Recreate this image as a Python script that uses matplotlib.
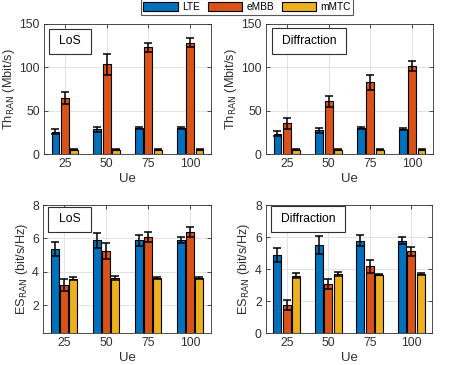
import matplotlib
matplotlib.use("Agg")
import matplotlib.pyplot as plt
from matplotlib.patches import Rectangle
import numpy as np

plt.rcParams['font.family'] = ['Liberation Sans', 'DejaVu Sans']

ue_labels = ["25", "50", "75", "100"]
series = ["LTE", "eMBB", "mMTC"]
colors = ["#0072BD", "#D95319", "#EDB120"]

# Throughput (Mbit/s) - LoS
th_los_lte = [25.8, 28.6, 30.0, 30.0]
th_los_lte_err = [3.0, 3.0, 1.2, 1.0]
th_los_embb = [64.6, 103.5, 123.0, 128.5]
th_los_embb_err = [7.0, 12.0, 5.0, 5.0]
th_los_mmtc = [5.0, 5.0, 5.0, 5.0]
th_los_mmtc_err = [0.6, 0.6, 0.6, 0.6]

# Throughput (Mbit/s) - Diffraction
th_dif_lte = [23.5, 27.4, 29.8, 28.6]
th_dif_lte_err = [3.0, 3.0, 1.5, 1.0]
th_dif_embb = [35.3, 60.7, 82.6, 101.8]
th_dif_embb_err = [6.0, 6.5, 9.0, 5.5]
th_dif_mmtc = [5.0, 5.0, 5.0, 5.0]
th_dif_mmtc_err = [0.6, 0.6, 0.6, 0.6]

# Spectral efficiency (bit/s/Hz) - LoS
es_los_lte = [5.35, 5.88, 5.9, 5.9]
es_los_lte_err = [0.42, 0.45, 0.33, 0.2]
es_los_embb = [3.24, 5.25, 6.1, 6.4]
es_los_embb_err = [0.36, 0.5, 0.3, 0.3]
es_los_mmtc = [3.6, 3.62, 3.65, 3.65]
es_los_mmtc_err = [0.1, 0.13, 0.06, 0.06]

# Spectral efficiency (bit/s/Hz) - Diffraction
es_dif_lte = [4.87, 5.5, 5.78, 5.78]
es_dif_lte_err = [0.45, 0.55, 0.32, 0.22]
es_dif_embb = [1.76, 3.07, 4.17, 5.1]
es_dif_embb_err = [0.33, 0.33, 0.4, 0.3]
es_dif_mmtc = [3.58, 3.69, 3.65, 3.68]
es_dif_mmtc_err = [0.15, 0.1, 0.05, 0.05]

W, H = 474, 365
fig = plt.figure(figsize=(W / 100, H / 100), dpi=100)

def rect(x0, x1, y0, y1):
    return [x0 / W, 1 - y1 / H, (x1 - x0) / W, (y1 - y0) / H]

axcol = "#303030"

panels = [
    dict(r=rect(44, 211, 24, 154), data=[(th_los_lte, th_los_lte_err), (th_los_embb, th_los_embb_err), (th_los_mmtc, th_los_mmtc_err)],
         ylim=(0, 150), yticks=[0, 50, 100, 150], ylabel=r"Th$_{\mathrm{RAN}}$ (Mbit/s)", title="LoS", box=(49, 91, 29, 54), ylx=17),
    dict(r=rect(266, 433, 24, 154), data=[(th_dif_lte, th_dif_lte_err), (th_dif_embb, th_dif_embb_err), (th_dif_mmtc, th_dif_mmtc_err)],
         ylim=(0, 150), yticks=[0, 50, 100, 150], ylabel=r"Th$_{\mathrm{RAN}}$ (Mbit/s)", title="Diffraction", box=(272, 346, 28, 54), ylx=239),
    dict(r=rect(43, 211, 205, 333), data=[(es_los_lte, es_los_lte_err), (es_los_embb, es_los_embb_err), (es_los_mmtc, es_los_mmtc_err)],
         ylim=(0.35, 8), yticks=[2, 4, 6, 8], ylabel=r"ES$_{\mathrm{RAN}}$ (bit/s/Hz)", title="LoS", box=(48, 91, 207, 232), ylx=30),
    dict(r=rect(266, 432, 205, 333), data=[(es_dif_lte, es_dif_lte_err), (es_dif_embb, es_dif_embb_err), (es_dif_mmtc, es_dif_mmtc_err)],
         ylim=(0, 8), yticks=[0, 2, 4, 6, 8], ylabel=r"ES$_{\mathrm{RAN}}$ (bit/s/Hz)", title="Diffraction", box=(271, 345, 206, 232), ylx=252),
]

x = np.arange(1, len(ue_labels) + 1)
offsets = [-0.225, 0.0, 0.225]
bw = 0.19
handles = []
for p in panels:
    ax = fig.add_axes(p["r"])
    r = p["r"]
    ax_x0 = r[0] * W
    ax_w = r[2] * W
    ax_top = (1 - r[1] - r[3]) * H
    ax_h = r[3] * H
    hs = []
    for (vals, errs), off, c, name in zip(p["data"], offsets, colors, series):
        b = ax.bar(x + off, vals, width=bw, color=c, edgecolor="black", linewidth=0.8, label=name, zorder=2)
        ax.errorbar(x + off, vals, yerr=errs, fmt="none", ecolor="black", elinewidth=1.1, capsize=3.2, capthick=1.1, zorder=3)
        hs.append(b)
    handles = hs
    ax.set_xlim(0.5, 4.5)
    ax.set_ylim(*p["ylim"])
    ax.set_xticks(x)
    ax.set_xticklabels(ue_labels)
    ax.set_yticks(p["yticks"])
    ax.grid(True, color="#e3e3e3", linewidth=0.7, zorder=0)
    ax.set_axisbelow(True)
    ax.tick_params(direction="in", length=3, width=0.6, top=True, right=True, colors=axcol, labelsize=8.8, pad=3)
    for s in ax.spines.values():
        s.set_color(axcol)
        s.set_linewidth(0.6)
    ax.set_xlabel("Ue", fontsize=9.5, color=axcol, labelpad=2)
    ax.set_ylabel(p["ylabel"], fontsize=9.2, color=axcol)
    ax.yaxis.set_label_coords((p["ylx"] - ax_x0) / ax_w, 0.5)
    bx0, bx1, by0, by1 = p["box"]
    fx0 = (bx0 - ax_x0) / ax_w
    fx1 = (bx1 - ax_x0) / ax_w
    fy0 = 1 - (by1 - ax_top) / ax_h
    fy1 = 1 - (by0 - ax_top) / ax_h
    ax.add_patch(Rectangle((fx0, fy0), fx1 - fx0, fy1 - fy0, transform=ax.transAxes,
                           facecolor="white", edgecolor=axcol, linewidth=0.8, zorder=5))
    ax.text((fx0 + fx1) / 2, (fy0 + fy1) / 2, p["title"], transform=ax.transAxes,
            ha="center", va="center", fontsize=8.7, color="black", zorder=6)

leg = fig.legend(handles, series, loc="center", bbox_to_anchor=(247 / W, 1 - 7 / H), ncol=3,
                 fontsize=7.3, frameon=True, fancybox=False, handlelength=3.4, handleheight=0.9,
                 handletextpad=0.4, columnspacing=0.8, borderpad=0.25, borderaxespad=0)
leg.get_frame().set_edgecolor(axcol)
leg.get_frame().set_linewidth(0.8)

fig.savefig("out.png", dpi=100)
